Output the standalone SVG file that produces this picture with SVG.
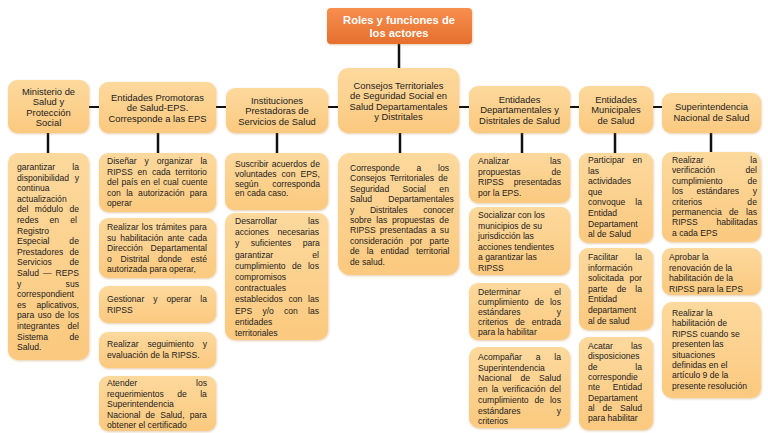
<svg xmlns="http://www.w3.org/2000/svg" width="768" height="433" viewBox="0 0 768 433">
<defs>
<linearGradient id="g" x1="0" y1="0" x2="0" y2="1"><stop offset="0" stop-color="#fdd99d"/><stop offset="1" stop-color="#fbc97f"/></linearGradient>
<linearGradient id="go" x1="0" y1="0" x2="0" y2="1"><stop offset="0" stop-color="#f78f50"/><stop offset="1" stop-color="#e66f2d"/></linearGradient>
<filter id="sh" x="-10%" y="-10%" width="120%" height="130%"><feDropShadow dx="0.6" dy="1" stdDeviation="0.8" flood-color="#b07020" flood-opacity="0.35"/></filter>
</defs>
<style>
.b{fill:url(#g);filter:url(#sh)}
.o{fill:url(#go);filter:url(#sh)}
text{font-family:"Liberation Sans",Arial,sans-serif;font-size:8.6px;fill:#1c1c1c}
.c{text-anchor:middle}
.h{font-size:9.4px}
.ti{font-size:11.2px;font-weight:bold;fill:#ffffff;text-anchor:middle}
.ln{stroke:#111;stroke-width:2.5;fill:none}
.hl{stroke:#111;stroke-width:2;fill:none}
</style>
<g id="connectors">
<line class="hl" x1="88" y1="107" x2="663" y2="107"/>
<line class="ln" x1="399" y1="43" x2="399" y2="69"/>
<line class="ln" x1="48" y1="132" x2="48" y2="154"/>
<line class="ln" x1="158" y1="132" x2="158" y2="154"/>
<line class="ln" x1="277" y1="132" x2="277" y2="154"/>
<line class="ln" x1="400" y1="132" x2="400" y2="154"/>
<line class="ln" x1="522" y1="132" x2="522" y2="154"/>
<line class="ln" x1="615" y1="132" x2="615" y2="154"/>
<line class="ln" x1="711" y1="132" x2="711" y2="153"/>
</g>
<g id="titulo"><rect class="o" x="327" y="8" width="145" height="36" rx="4"/>
<text class="ti" x="399" y="23.5">Roles y funciones de</text><text class="ti" x="399" y="37">los actores</text></g>

<g id="ministerio"><rect class="b" x="8" y="80" width="81" height="53" rx="9"/>
<text class="c h" x="48.5" y="94.5">Ministerio de</text><text class="c h" x="48.5" y="105">Salud y</text><text class="c h" x="48.5" y="115.5">Protección</text><text class="c h" x="48.5" y="126">Social</text></g>
<g id="eps"><rect class="b" x="99" y="82" width="117" height="51" rx="9"/>
<text class="c h" x="157.5" y="100.5">Entidades Promotoras</text><text class="c h" x="157.5" y="111">de Salud-EPS.</text><text class="c h" x="157.5" y="121.5">Corresponde a las EPS</text></g>
<g id="ips"><rect class="b" x="226" y="88" width="102" height="45" rx="9"/>
<text class="c h" x="277" y="103.5">Instituciones</text><text class="c h" x="277" y="114">Prestadoras de</text><text class="c h" x="277" y="124.5">Servicios de Salud</text></g>
<g id="consejos"><rect class="b" x="338" y="68" width="121" height="65" rx="10"/>
<text class="c h" x="398.5" y="88.5">Consejos Territoriales</text><text class="c h" x="398.5" y="99">de Seguridad Social en</text><text class="c h" x="398.5" y="109.5">Salud Departamentales</text><text class="c h" x="398.5" y="120">y Distritales</text></g>
<g id="departamentales"><rect class="b" x="469" y="86" width="101" height="47" rx="9"/>
<text class="c h" x="519.5" y="102.5">Entidades</text><text class="c h" x="519.5" y="113">Departamentales y</text><text class="c h" x="519.5" y="123.5">Distritales de Salud</text></g>
<g id="municipales"><rect class="b" x="579" y="86" width="74" height="47" rx="9"/>
<text class="c h" x="616" y="102.5">Entidades</text><text class="c h" x="616" y="113">Municipales</text><text class="c h" x="616" y="123.5">de Salud</text></g>
<g id="superintendencia"><rect class="b" x="662" y="93" width="99" height="40" rx="9"/>
<text class="c h" x="711.5" y="110">Superintendencia</text><text class="c h" x="711.5" y="120.5">Nacional de Salud</text></g>

<g id="ministerio-1"><rect class="b" x="8" y="153" width="81" height="207" rx="10"/>
<text x="17" y="170" word-spacing="14.7">garantizar la</text>
<text x="17" y="180.6" word-spacing="3.2">disponibilidad y</text>
<text x="17" y="191.2">continua</text>
<text x="17" y="201.8">actualización</text>
<text x="17" y="212.4" word-spacing="4">del módulo de</text>
<text x="17" y="223" word-spacing="8.7">redes en el</text>
<text x="17" y="233.6">Registro</text>
<text x="17" y="244.2" word-spacing="17.5">Especial de</text>
<text x="17" y="254.8" word-spacing="3.7">Prestadores de</text>
<text x="17" y="265.4" word-spacing="15.2">Servicios de</text>
<text x="17" y="276" word-spacing="1.6">Salud — REPS</text>
<text x="17" y="286.6" word-spacing="41.9">y sus</text>
<text x="17" y="297.2">correspondient</text>
<text x="17" y="307.8" word-spacing="8">es aplicativos,</text>
<text x="17" y="318.4" word-spacing="1.1">para uso de los</text>
<text x="17" y="329" word-spacing="5.6">integrantes del</text>
<text x="17" y="339.6" word-spacing="19">Sistema de</text>
<text x="17" y="350.2">Salud.</text></g>

<g id="eps-1"><rect class="b" x="99" y="153" width="117" height="59" rx="9"/>
<text x="107" y="164" word-spacing="5.5">Diseñar y organizar la</text>
<text x="107" y="174.6" word-spacing="2.4">RIPSS en cada territorio</text>
<text x="107" y="185.2" word-spacing="0.6">del país en el cual cuente</text>
<text x="107" y="195.8" word-spacing="2.9">con la autorización para</text>
<text x="107" y="206.4">operar</text></g>
<g id="eps-2"><rect class="b" x="99" y="218" width="117" height="60" rx="9"/>
<text x="107" y="230" word-spacing="0.8">Realizar los trámites para</text>
<text x="107" y="240.6" word-spacing="1.8">su habilitación ante cada</text>
<text x="107" y="251.2" word-spacing="5.4">Dirección Departamental</text>
<text x="107" y="261.8" word-spacing="6.4">o Distrital donde esté</text>
<text x="107" y="272.4">autorizada para operar,</text></g>
<g id="eps-3"><rect class="b" x="99" y="286" width="117" height="37" rx="9"/>
<text x="107" y="302" word-spacing="6.6">Gestionar y operar la</text>
<text x="107" y="312.6">RIPSS</text></g>
<g id="eps-4"><rect class="b" x="99" y="332" width="117" height="36" rx="9"/>
<text x="107" y="347" word-spacing="6.5">Realizar seguimiento y</text>
<text x="107" y="357.6">evaluación de la RIPSS.</text></g>
<g id="eps-5"><rect class="b" x="99" y="376" width="117" height="55" rx="9"/>
<text x="107" y="386" word-spacing="56.5">Atender los</text>
<text x="107" y="396.5" word-spacing="11">requerimientos de la</text>
<text x="107" y="407">Superintendencia</text>
<text x="107" y="417.5" word-spacing="2.7">Nacional de Salud, para</text>
<text x="107" y="428">obtener el certificado</text></g>

<g id="ips-1"><rect class="b" x="225" y="153" width="103" height="57" rx="9"/>
<text x="235" y="167" word-spacing="0.9">Suscribir acuerdos de</text>
<text x="235" y="177" word-spacing="2.6">voluntades con EPS,</text>
<text x="235" y="186.5" word-spacing="11.4">según corresponda</text>
<text x="235" y="196">en cada caso.</text></g>
<g id="ips-2"><rect class="b" x="225" y="213" width="103" height="127" rx="10"/>
<text x="235" y="224" word-spacing="28.6">Desarrollar las</text>
<text x="235" y="235.2" word-spacing="6.1">acciones necesarias</text>
<text x="235" y="246.4" word-spacing="9">y suficientes para</text>
<text x="235" y="257.6" word-spacing="36.7">garantizar el</text>
<text x="235" y="268.8" word-spacing="4">cumplimiento de los</text>
<text x="235" y="280">compromisos</text>
<text x="235" y="291.2">contractuales</text>
<text x="235" y="302.4" word-spacing="3.3">establecidos con las</text>
<text x="235" y="313.6" word-spacing="7.8">EPS y/o con las</text>
<text x="235" y="324.8">entidades</text>
<text x="235" y="336">territoriales</text></g>

<g id="consejos-1"><rect class="b" x="338" y="153" width="121" height="122" rx="12"/>
<text x="350" y="171" word-spacing="14.4">Corresponde a los</text>
<text x="350" y="181.4" word-spacing="1.7">Consejos Territoriales de</text>
<text x="350" y="191.8" word-spacing="11">Seguridad Social en</text>
<text x="350" y="202.2" word-spacing="13.9">Salud Departamentales</text>
<text x="350" y="212.6" word-spacing="13.2">y Distritales conocer</text>
<text x="350" y="223" word-spacing="2.4">sobre las propuestas de</text>
<text x="350" y="233.4" word-spacing="1.6">RIPSS presentadas a su</text>
<text x="350" y="243.8" word-spacing="4.6">consideración por parte</text>
<text x="350" y="254.2" word-spacing="4.8">de la entidad territorial</text>
<text x="350" y="264.6">de salud.</text></g>

<g id="departamentales-1"><rect class="b" x="469" y="153" width="101" height="50" rx="9"/>
<text x="478" y="164" word-spacing="38.6">Analizar las</text>
<text x="478" y="174.7" word-spacing="28.5">propuestas de</text>
<text x="478" y="185.4" word-spacing="7.5">RIPSS presentadas</text>
<text x="478" y="196">por la EPS.</text></g>
<g id="departamentales-2"><rect class="b" x="469" y="207" width="101" height="68" rx="9"/>
<text x="478" y="218">Socializar con los</text>
<text x="478" y="228.6">municipios de su</text>
<text x="478" y="239.2">jurisdicción las</text>
<text x="478" y="249.8">acciones tendientes</text>
<text x="478" y="260.4">a garantizar las</text>
<text x="478" y="271">RIPSS</text></g>
<g id="departamentales-3"><rect class="b" x="469" y="283" width="101" height="57" rx="9"/>
<text x="478" y="295" word-spacing="31.4">Determinar el</text>
<text x="478" y="305" word-spacing="3.5">cumplimiento de los</text>
<text x="478" y="315" word-spacing="33.8">estándares y</text>
<text x="478" y="325" word-spacing="4.7">criterios de entrada</text>
<text x="478" y="335">para la habilitar</text></g>
<g id="departamentales-4"><rect class="b" x="469" y="347" width="101" height="81" rx="10"/>
<text x="478" y="360" word-spacing="11.4">Acompañar a la</text>
<text x="478" y="370.7">Superintendencia</text>
<text x="478" y="381.4" word-spacing="6.6">Nacional de Salud</text>
<text x="478" y="392.1" word-spacing="1.7">en la verificación del</text>
<text x="478" y="402.8" word-spacing="3.5">cumplimiento de los</text>
<text x="478" y="413.5" word-spacing="33.8">estándares y</text>
<text x="478" y="424.2">criterios</text></g>

<g id="municipales-1"><rect class="b" x="579" y="153" width="74" height="90" rx="9"/>
<text x="588" y="163" word-spacing="5.7">Participar en</text>
<text x="588" y="173.6">las</text>
<text x="588" y="184.2">actividades</text>
<text x="588" y="194.8">que</text>
<text x="588" y="205.4" word-spacing="7.6">convoque la</text>
<text x="588" y="216">Entidad</text>
<text x="588" y="226.6">Departament</text>
<text x="588" y="237.2">al de Salud</text></g>
<g id="municipales-2"><rect class="b" x="579" y="248" width="74" height="82" rx="9"/>
<text x="588" y="260" word-spacing="14.8">Facilitar la</text>
<text x="588" y="270.6">información</text>
<text x="588" y="281.2" word-spacing="3.3">solicitada por</text>
<text x="588" y="291.8" word-spacing="6.7">parte de la</text>
<text x="588" y="302.4">Entidad</text>
<text x="588" y="313">departament</text>
<text x="588" y="323.6">al de salud</text></g>
<g id="municipales-3"><rect class="b" x="579" y="337" width="74" height="93" rx="9"/>
<text x="588" y="349" word-spacing="15.8">Acatar las</text>
<text x="588" y="359.3">disposiciones</text>
<text x="588" y="369.6" word-spacing="35.4">de la</text>
<text x="588" y="379.9">correspondie</text>
<text x="588" y="390.2" word-spacing="10.5">nte Entidad</text>
<text x="588" y="400.5">Departament</text>
<text x="588" y="410.8" word-spacing="5.5">al de Salud</text>
<text x="588" y="421.1">para habilitar</text></g>

<g id="superintendencia-1"><rect class="b" x="662" y="152" width="99" height="90" rx="10"/>
<text x="672" y="163" word-spacing="44.4">Realizar la</text>
<text x="672" y="173.4" word-spacing="28.1">verificación del</text>
<text x="672" y="183.8" word-spacing="22.4">cumplimiento de</text>
<text x="672" y="194.2" word-spacing="11.2">los estándares y</text>
<text x="672" y="204.6" word-spacing="42.9">criterios de</text>
<text x="672" y="215" word-spacing="5">permanencia de las</text>
<text x="672" y="225.4" word-spacing="16.2">RIPSS habilitadas</text>
<text x="672" y="235.8">a cada EPS</text></g>
<g id="superintendencia-2"><rect class="b" x="662" y="248" width="99" height="47" rx="9"/>
<text x="669" y="260">Aprobar la</text>
<text x="669" y="270.5">renovación de la</text>
<text x="669" y="281">habilitación de la</text>
<text x="669" y="291.5">RIPSS para la EPS</text></g>
<g id="superintendencia-3"><rect class="b" x="662" y="302" width="99" height="96" rx="10"/>
<text x="672" y="316">Realizar la</text>
<text x="672" y="326.4">habilitación de</text>
<text x="672" y="336.8">RIPSS cuando se</text>
<text x="672" y="347.2">presenten las</text>
<text x="672" y="357.6">situaciones</text>
<text x="672" y="368">definidas en el</text>
<text x="672" y="378.4">artículo 9 de la</text>
<text x="672" y="388.8">presente resolución</text></g>
</svg>
